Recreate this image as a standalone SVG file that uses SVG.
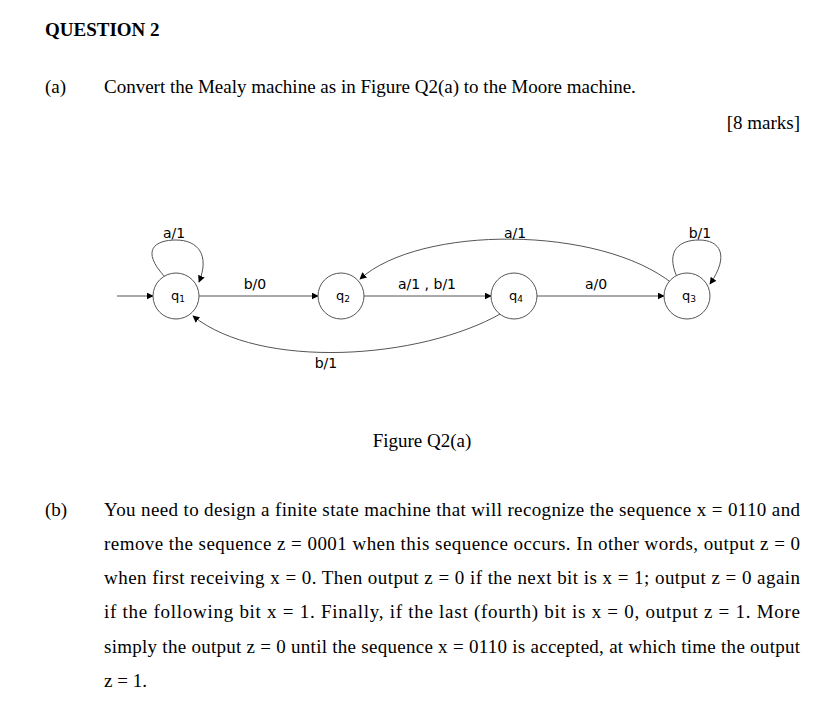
<svg xmlns="http://www.w3.org/2000/svg" width="839" height="705" viewBox="0 0 839 705">
<style>
.t{font-family:"Liberation Serif",serif;font-size:19px;fill:#000}
.d{font-family:"DejaVu Sans","Liberation Sans",sans-serif;font-size:14px;fill:#000}
.s{font-family:"DejaVu Sans","Liberation Sans",sans-serif;font-size:13px;fill:#000}
.n{fill:#fff;stroke:#555;stroke-width:1}
.e{fill:none;stroke:#555;stroke-width:1;marker-end:url(#ar)}
</style>
<defs><marker id="ar" viewBox="0 0 10 10" refX="9" refY="5" markerWidth="7" markerHeight="7" orient="auto"><path d="M0,0L10,5L0,10z" fill="#000"/></marker></defs>
<rect width="839" height="705" fill="#fff"/>
<text class="t" x="45" y="36" font-weight="bold">QUESTION 2</text>
<text class="t" x="45" y="93">(a)</text>
<text class="t" x="104" y="93">Convert the Mealy machine as in Figure Q2(a) to the Moore machine.</text>
<text class="t" x="800" y="129" text-anchor="end">[8 marks]</text>
<g id="edges">
<path class="e" d="M117,296 H153"/>
<path class="e" d="M199,296 H318"/>
<path class="e" d="M364,296 H491"/>
<path class="e" d="M537,296 H664"/>
<path class="e" d="M165,277 C140,250 155,240 176,240 C198,240 210,255 199,282"/>
<path class="e" d="M677,277 C665,250 680,240 699,240 C720,240 730,255 710,284"/>
<path class="e" d="M673,284 C600,225 420,225 360,279"/>
<path class="e" d="M502,313 C420,360 260,370 193,316"/>
</g>
<g id="q1"><circle class="n" cx="176" cy="296" r="23"/><text class="s" x="171" y="300">q<tspan font-size="9" dy="2">1</tspan></text></g>
<g id="q2"><circle class="n" cx="341" cy="296" r="23"/><text class="s" x="336" y="300">q<tspan font-size="9" dy="2">2</tspan></text></g>
<g id="q4"><circle class="n" cx="514" cy="296" r="23"/><text class="s" x="509" y="300">q<tspan font-size="9" dy="2">4</tspan></text></g>
<g id="q3"><circle class="n" cx="687" cy="296" r="23"/><text class="s" x="682" y="300">q<tspan font-size="9" dy="2">3</tspan></text></g>
<g id="labels">
<text class="d" x="174" y="238" text-anchor="middle">a/1</text>
<text class="d" x="515" y="238" text-anchor="middle">a/1</text>
<text class="d" x="700" y="238" text-anchor="middle">b/1</text>
<text class="d" x="255" y="289" text-anchor="middle">b/0</text>
<text class="d" x="427" y="289" text-anchor="middle">a/1 , b/1</text>
<text class="d" x="596" y="289" text-anchor="middle">a/0</text>
<text class="d" x="326" y="368" text-anchor="middle">b/1</text>
</g>
<text class="t" x="422" y="447" text-anchor="middle">Figure Q2(a)</text>
<text class="t" x="45" y="516">(b)</text>
<text class="t" x="104" y="516" textLength="696" lengthAdjust="spacing">You need to design a finite state machine that will recognize the sequence x = 0110 and</text>
<text class="t" x="104" y="550" textLength="696" lengthAdjust="spacing">remove the sequence z = 0001 when this sequence occurs. In other words, output z = 0</text>
<text class="t" x="104" y="584" textLength="696" lengthAdjust="spacing">when first receiving x = 0. Then output z = 0 if the next bit is x = 1; output z = 0 again</text>
<text class="t" x="104" y="618" textLength="696" lengthAdjust="spacing">if the following bit x = 1. Finally, if the last (fourth) bit is x = 0, output z = 1. More</text>
<text class="t" x="104" y="653" textLength="696" lengthAdjust="spacing">simply the output z = 0 until the sequence x = 0110 is accepted, at which time the output</text>
<text class="t" x="104" y="687">z = 1.</text>
</svg>
